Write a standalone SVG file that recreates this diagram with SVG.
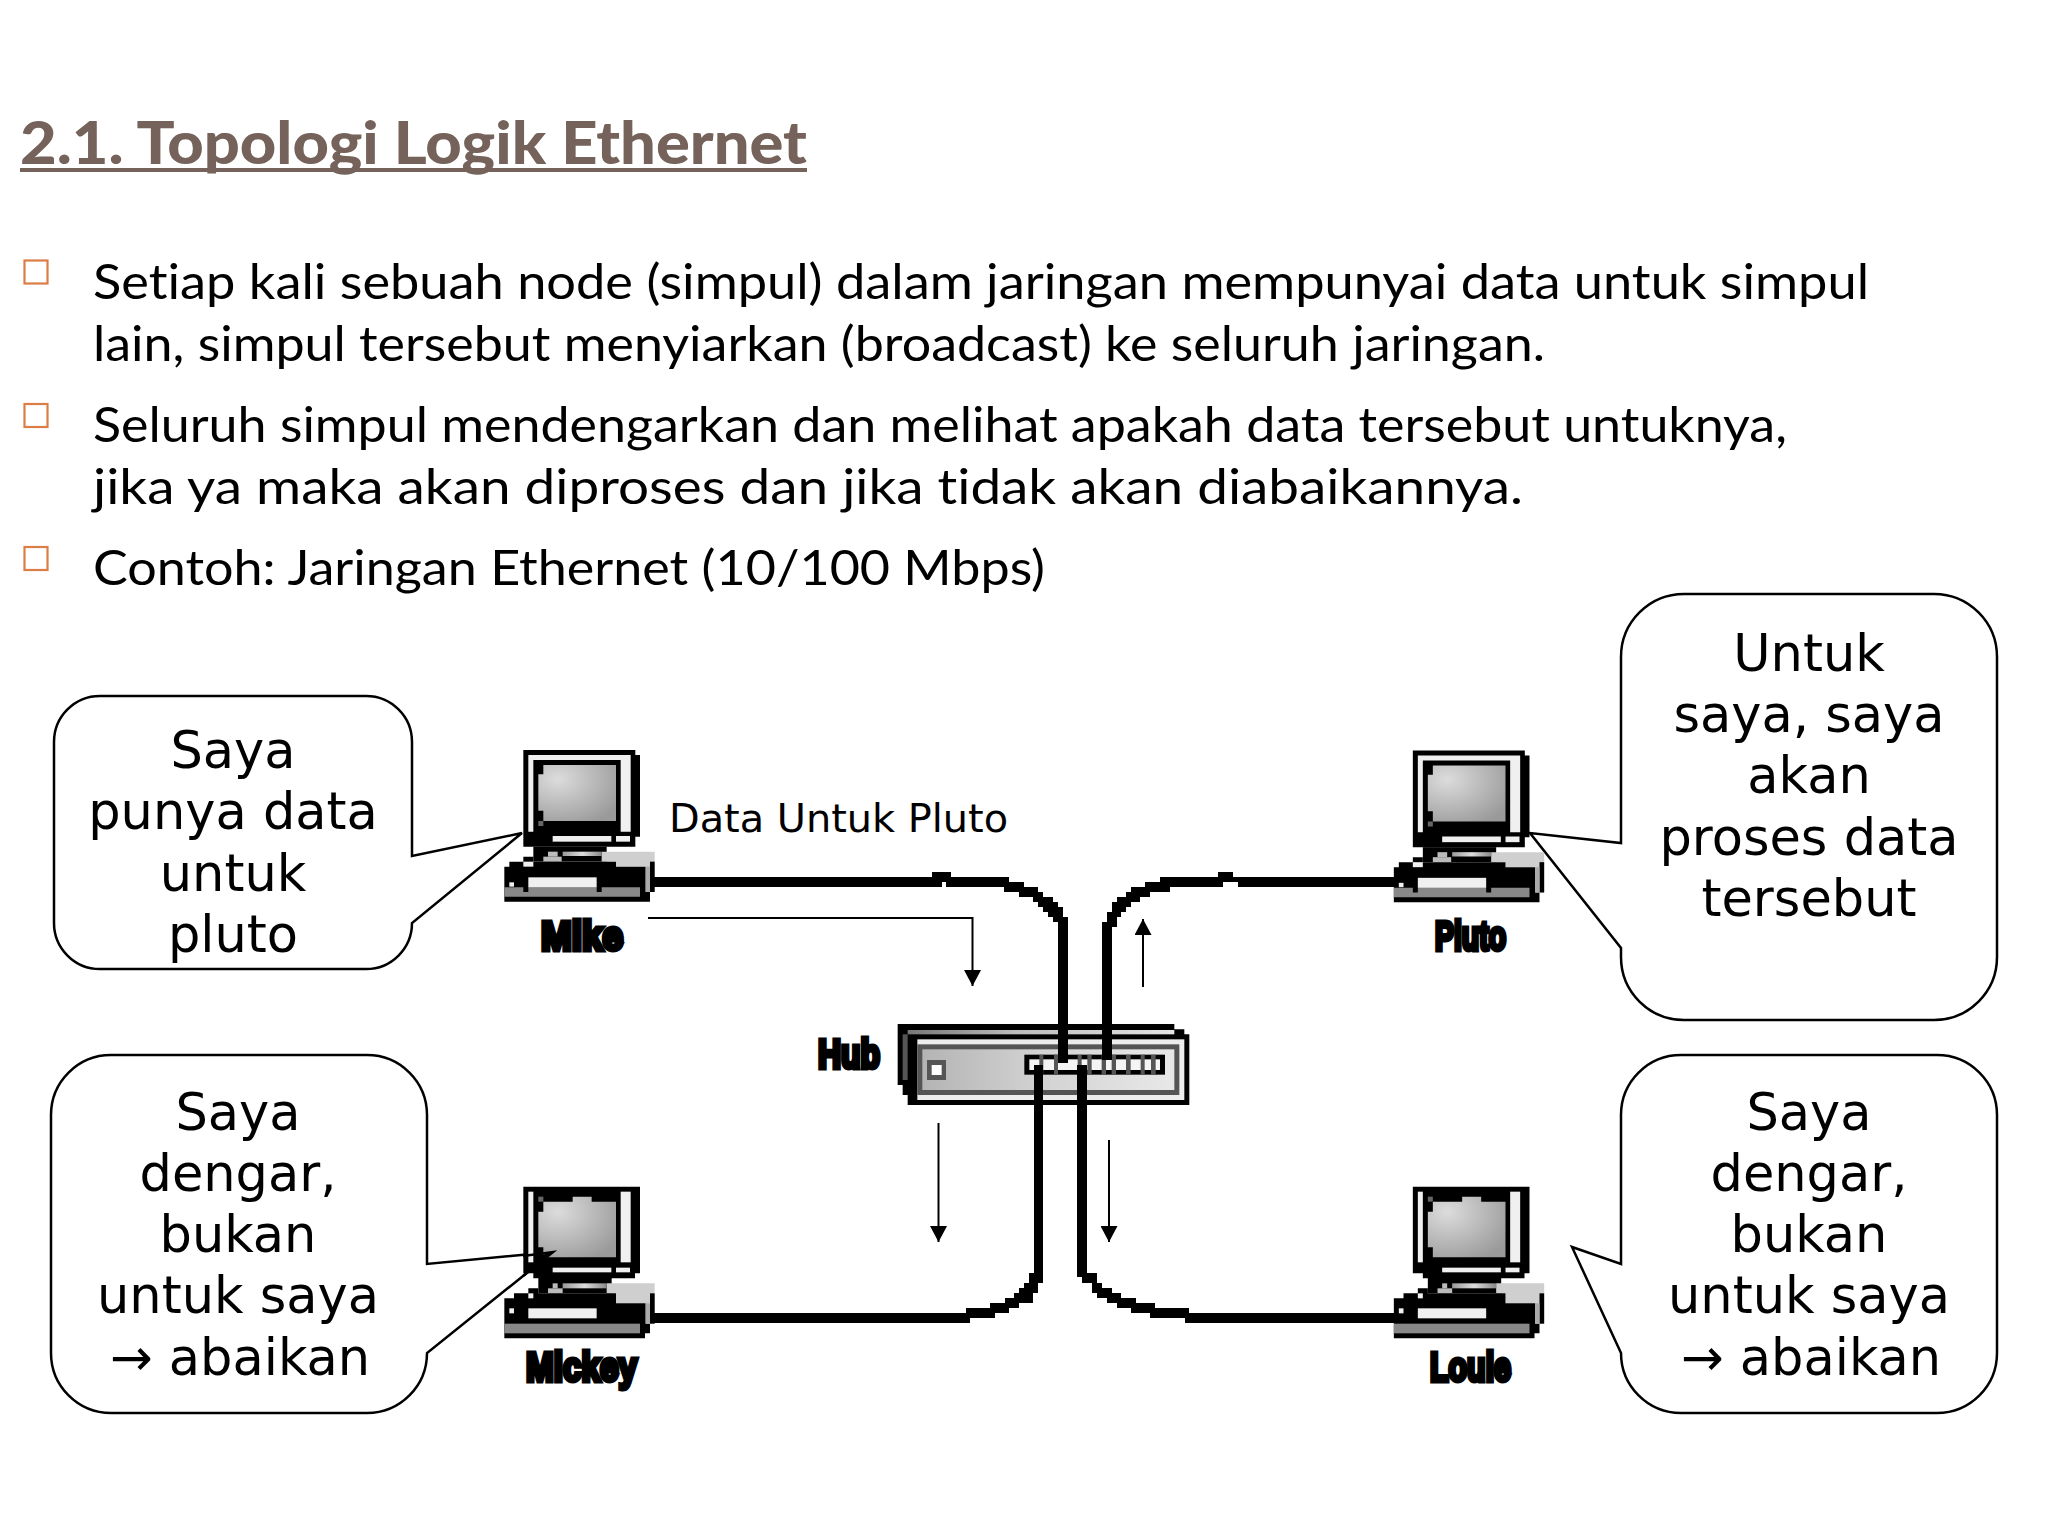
<svg xmlns="http://www.w3.org/2000/svg" width="2048" height="1536" viewBox="0 0 2048 1536">
<style>
text{font-variant-ligatures:none}
.body{font-family:"Lato","Liberation Sans",sans-serif;font-size:48px;fill:#000}
.title{font-family:"Lato","Liberation Sans",sans-serif;font-weight:900;font-size:59px;fill:#75625a}
.bub{font-family:"DejaVu Sans",sans-serif;font-size:51px;fill:#000;text-anchor:middle}
.lab{font-family:"Liberation Sans",sans-serif;font-weight:700;font-size:41px;fill:#000;stroke:#000;stroke-width:5}
.blt{fill:none;stroke:#dc7d45;stroke-width:2.2}
.ball{fill:#fff;stroke:#000;stroke-width:2.5}
.thin{fill:none;stroke:#000;stroke-width:2}
</style>
<defs>
<radialGradient id="scr" cx="0.25" cy="0.25" r="0.9"><stop offset="0" stop-color="#dcdcdc"/><stop offset="1" stop-color="#9a9a9a"/></radialGradient>
<linearGradient id="strip"><stop offset="0" stop-color="#999"/><stop offset="0.5" stop-color="#ddd"/><stop offset="1" stop-color="#888"/></linearGradient>
<linearGradient id="hubf"><stop offset="0" stop-color="#b4b4b4"/><stop offset="0.5" stop-color="#d4d4d4"/><stop offset="1" stop-color="#e8e8e8"/></linearGradient>
<linearGradient id="hubt"><stop offset="0" stop-color="#777"/><stop offset="0.4" stop-color="#bbb"/><stop offset="1" stop-color="#e4e4e4"/></linearGradient>
<marker id="ah" markerUnits="userSpaceOnUse" markerWidth="18" markerHeight="17" refX="16" refY="8.5" orient="auto"><path d="M0 0L16 8.5L0 17Z" fill="#000"/></marker>
<g id="pcTop">
<path d="M130 90H466V105H480V350H466V380H130Z" fill="#000"/>
<path d="M145 105H452V335H422V120H160V335H145Z" fill="#f0f0f0"/>
<path d="M190 135H408V303H190V272H175V163H190Z" fill="url(#scr)"/>
<rect x="175" y="303" width="15" height="15" fill="#666"/>
<rect x="218" y="348" width="176" height="17" fill="#f0f0f0"/><rect x="408" y="348" width="42" height="17" fill="#f0f0f0"/>
<rect x="160" y="380" width="220" height="45" fill="#000"/>
<path d="M365 395H524V516H497V440H408V425H365Z" fill="#cfcfcf"/>
<rect x="204" y="395" width="29" height="15" fill="#bbb"/><rect x="190" y="410" width="55" height="15" fill="#bbb"/>
<rect x="248" y="395" width="117" height="13" fill="url(#strip)"/>
<path d="M73 440H88V425H130V410H160V425H408V440H497V516H510V545H73Z" fill="#000"/>
<rect x="510" y="425" width="14" height="91" fill="#000"/>
<rect x="497" y="440" width="13" height="76" fill="#aaa"/>
<path d="M73 502H130V516H145V502H350V516H365V502H480V530H73Z" fill="#888"/>
<rect x="145" y="472" width="205" height="30" fill="#f0f0f0"/>
<rect x="88" y="487" width="14" height="13" fill="#f0f0f0"/>
<rect x="130" y="425" width="30" height="15" fill="#f0f0f0"/>
</g>
<g id="pcBot">
<path d="M130 50H480V310H465V325H395V370H175V325H160V310H130Z" fill="#000"/>
<rect x="145" y="65" width="15" height="212" fill="#f0f0f0"/><rect x="422" y="65" width="30" height="212" fill="#f0f0f0"/>
<path d="M190 95H278V80H335V95H408V262H190V232H175V125H190Z" fill="url(#scr)"/>
<rect x="175" y="80" width="15" height="15" fill="#666"/>
<rect x="218" y="293" width="176" height="14" fill="#f0f0f0"/><rect x="408" y="293" width="42" height="14" fill="#f0f0f0"/>
<path d="M380 340H524V461H497V400H408V370H380Z" fill="#cfcfcf"/>
<rect x="248" y="340" width="132" height="15" fill="url(#strip)"/>
<rect x="218" y="340" width="15" height="15" fill="#bbb"/><rect x="204" y="355" width="44" height="15" fill="#bbb"/>
<path d="M73 385H102V370H145V355H175V370H408V400H497V461H510V490H495V505H73Z" fill="#000"/>
<rect x="510" y="370" width="14" height="91" fill="#000"/>
<rect x="497" y="400" width="13" height="61" fill="#aaa"/>
<rect x="73" y="461" width="407" height="29" fill="#888"/>
<rect x="145" y="415" width="205" height="30" fill="#f0f0f0"/>
<rect x="88" y="415" width="14" height="15" fill="#f0f0f0"/>
<rect x="145" y="370" width="15" height="15" fill="#f0f0f0"/>
</g>
</defs>
<rect width="2048" height="1536" fill="#fff"/>

<g id="heading">
<text class="title" x="20" y="164" textLength="787" lengthAdjust="spacingAndGlyphs">2.1. Topologi Logik Ethernet</text>
<rect x="20" y="168" width="787" height="4" fill="#75625a"/>
</g>

<g id="bullets">
<rect class="blt" x="24.5" y="260.5" width="23" height="23"/>
<rect class="blt" x="24.5" y="404" width="23" height="23"/>
<rect class="blt" x="24.5" y="547" width="23" height="23"/>
<text class="body" x="93" y="299" textLength="1776" lengthAdjust="spacingAndGlyphs">Setiap kali sebuah node (simpul) dalam jaringan mempunyai data untuk simpul</text>
<text class="body" x="93" y="361" textLength="1452" lengthAdjust="spacingAndGlyphs">lain, simpul tersebut menyiarkan (broadcast) ke seluruh jaringan.</text>
<text class="body" x="93" y="442" textLength="1694" lengthAdjust="spacingAndGlyphs">Seluruh simpul mendengarkan dan melihat apakah data tersebut untuknya,</text>
<text class="body" x="93" y="504" textLength="1430" lengthAdjust="spacingAndGlyphs">jika ya maka akan diproses dan jika tidak akan diabaikannya.</text>
<text class="body" x="93" y="585" textLength="952" lengthAdjust="spacingAndGlyphs">Contoh: Jaringan Ethernet (10/100 Mbps)</text>
</g>

<g id="bubble-mike">
<path class="ball" d="M100 696H366A46 46 0 0 1 412 742V856L522 833L412 923A46 46 0 0 1 366 969H100A46 46 0 0 1 54 923V742A46 46 0 0 1 100 696Z"/>
<text class="bub"><tspan x="233" y="768">Saya</tspan><tspan x="233" y="829">punya data</tspan><tspan x="233" y="891">untuk</tspan><tspan x="233" y="952">pluto</tspan></text>
</g>
<g id="bubble-mickey">
<path class="ball" d="M111 1055H367A60 60 0 0 1 427 1115V1264L553 1252L427 1353A60 60 0 0 1 367 1413H111A60 60 0 0 1 51 1353V1115A60 60 0 0 1 111 1055Z"/>
<text class="bub"><tspan x="238" y="1130">Saya</tspan><tspan x="238" y="1191">dengar,</tspan><tspan x="238" y="1252">bukan</tspan><tspan x="238" y="1313">untuk saya</tspan><tspan x="240" y="1375">→ abaikan</tspan></text>
</g>
<g id="bubble-pluto">
<path class="ball" d="M1684 594H1934A63 63 0 0 1 1997 657V957A63 63 0 0 1 1934 1020H1684A63 63 0 0 1 1621 957V948L1530 833L1621 843V657A63 63 0 0 1 1684 594Z"/>
<text class="bub"><tspan x="1809" y="671">Untuk</tspan><tspan x="1809" y="732">saya, saya</tspan><tspan x="1809" y="793">akan</tspan><tspan x="1809" y="855">proses data</tspan><tspan x="1809" y="916">tersebut</tspan></text>
</g>
<g id="bubble-louie">
<path class="ball" d="M1681 1055H1937A60 60 0 0 1 1997 1115V1353A60 60 0 0 1 1937 1413H1681A60 60 0 0 1 1621 1353L1572 1247L1621 1264V1115A60 60 0 0 1 1681 1055Z"/>
<text class="bub"><tspan x="1809" y="1130">Saya</tspan><tspan x="1809" y="1191">dengar,</tspan><tspan x="1809" y="1252">bukan</tspan><tspan x="1809" y="1313">untuk saya</tspan><tspan x="1811" y="1375">→ abaikan</tspan></text>
</g>

<g id="node-mike">
<use href="#pcTop" transform="translate(480 720) scale(.33333)"/>
<text class="lab" x="541" y="950" textLength="82" lengthAdjust="spacingAndGlyphs">Mike</text>
</g>
<g id="node-pluto">
<use href="#pcTop" transform="translate(1369.5 720.5) scale(.33333)"/>
<text class="lab" x="1435" y="950" textLength="71" lengthAdjust="spacingAndGlyphs">Pluto</text>
</g>
<g id="node-mickey">
<use href="#pcBot" transform="translate(480 1170) scale(.33333)"/>
<text class="lab" x="526" y="1381" textLength="111" lengthAdjust="spacingAndGlyphs">Mickey</text>
</g>
<g id="node-louie">
<use href="#pcBot" transform="translate(1369.5 1170) scale(.33333)"/>
<text class="lab" x="1430" y="1381" textLength="81" lengthAdjust="spacingAndGlyphs">Louie</text>
</g>
<g id="node-hub">
<g transform="translate(780 980) scale(.33333)">
<path d="M353 132H1183V148H1213V163H1228V375H383V345H368V315H353Z" fill="#000"/>
<rect x="383" y="150" width="800" height="13" fill="url(#hubt)"/>
<rect x="368" y="163" width="15" height="137" fill="#555"/>
<rect x="412" y="178" width="801" height="182" fill="#ececec"/>
<rect x="412" y="193" width="786" height="152" fill="#555"/>
<rect x="427" y="208" width="756" height="122" fill="url(#hubf)"/>
<rect x="441" y="240" width="57" height="60" fill="#555"/>
<rect x="455" y="255" width="30" height="30" fill="#fff"/>
<rect x="733" y="224" width="422" height="60" fill="#000"/>
<rect x="748" y="238" width="392" height="32" fill="#f4f4f4"/>
<path d="M778 224h12v60h-12zM822 224h12v60h-12zM893 224h12v60h-12zM922 224h13v60h-13zM965 224h13v60h-13zM995 224h13v60h-13zM1038 224h14v60h-14zM1082 224h12v60h-12zM1113 224h14v60h-14z" fill="#555"/>
</g>
<text class="lab" x="818" y="1068" textLength="62" lengthAdjust="spacingAndGlyphs">Hub</text>
</g>

<g id="connectors">
<path id="cable-mike" fill="#000" d="M653 877H932V872H951V877H1009V882H1024V887H1038V892H1043V897H1053V902H1058V907H1063V917H1068V1063H1058V922H1053V917H1048V912H1043V907H1038V902H1033V897H1019V892H1004V887H946V882H942V887H653Z"/>
<path id="cable-pluto" fill="#000" d="M1397 877V887H1238V882H1223V887H1170V892H1150V897H1140V902H1131V907H1126V912H1121V917H1117V927H1112V1060H1102V922H1107V912H1112V902H1117V897H1126V892H1131V887H1145V882H1160V877H1218V872H1233V877Z"/>
<path id="cable-mickey" fill="#000" d="M653 1313H966V1308H990V1303H1005V1298H1014V1293H1019V1288H1024V1283H1029V1273H1034V1065H1043V1283H1038V1293H1033V1303H1019V1308H1009V1313H995V1318H970V1323H653Z"/>
<path id="cable-louie" fill="#000" d="M1397 1313V1323H1185V1318H1150V1313H1131V1308H1117V1303H1107V1298H1097V1293H1092V1283H1082V1277H1077V1065H1087V1273H1097V1283H1102V1288H1112V1293H1121V1298H1136V1303H1155V1308H1189V1313Z"/>
<path class="thin" d="M648 918H972.5V986" marker-end="url(#ah)"/>
<path class="thin" d="M1143 987V919" marker-end="url(#ah)"/>
<path class="thin" d="M938.5 1123V1242" marker-end="url(#ah)"/>
<path class="thin" d="M1109 1140V1242" marker-end="url(#ah)"/>
</g>

<g id="mickey-pointer">
<path d="M523 1256L553 1252L523 1276" fill="none" stroke="#000" stroke-width="2.5"/>
<path d="M538 1256L553 1252L542 1262Z" fill="#000"/>
</g>

<text x="669" y="832" font-family="DejaVu Sans, sans-serif" font-size="39" fill="#000" textLength="339" lengthAdjust="spacingAndGlyphs">Data Untuk Pluto</text>
</svg>
